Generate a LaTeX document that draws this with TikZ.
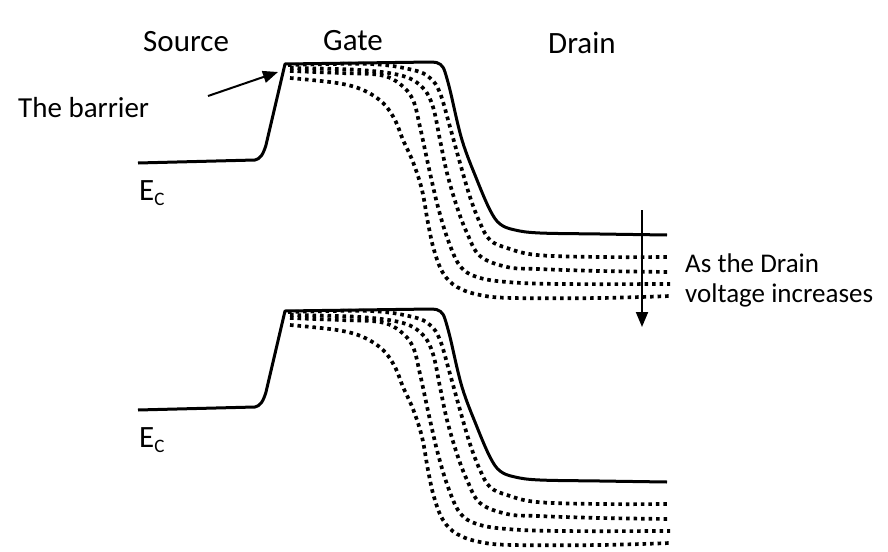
\documentclass[tikz,border=0pt]{standalone}
\usepackage{fontspec}
\setmainfont{Carlito}
\usetikzlibrary{arrows.meta}
\tikzset{
  band/.style={line width=3pt, line join=round},
  dotband/.style={line width=3.7pt, dash pattern=on 3.6pt off 3.9pt},
  pointer/.style={line width=2pt, -{Triangle[length=15pt,width=12pt]}},
  bigtxt/.style={anchor=base west, inner sep=0pt, font=\fontsize{31}{37}\selectfont},
  midtxt/.style={anchor=base west, inner sep=0pt, font=\fontsize{29}{35}\selectfont},
  smalltxt/.style={anchor=base west, inner sep=0pt, font=\fontsize{27}{30}\selectfont},
}
\newcommand{\bandpicture}{%
  \draw[band] (138,163) -- (255,160) .. controls (260,159) and (263,155) .. (266,145)
    -- (285,64) -- (432,62) .. controls (439,62) and (443,65) .. (445,72)
    -- plot[smooth, tension=0.6] coordinates {(445,72) (450,90) (462,140) (477,180) (490,210) (500,224) (515,230) (540,233) (600,234) (667,235)};
  \draw[dotband] plot[smooth, tension=0.6] coordinates {(288,65) (370,64) (413,70) (430,78) (440,93) (450,127) (460,163) (470,197) (480,223) (490,240) (507,248) (537,255) (600,257) (670,257)};
  \draw[dotband] plot[smooth, tension=0.6] coordinates {(290,68) (360,70) (403,76) (423,88) (433,107) (440,140) (447,173) (457,207) (467,233) (480,256) (507,267) (537,269) (600,271) (670,272)};
  \draw[dotband] plot[smooth, tension=0.6] coordinates {(290,71) (340,73) (380,75) (400,84) (413,100) (420,127) (425,150) (430,173) (438,207) (448,240) (460,266) (477,277) (507,282) (560,284) (670,284)};
  \draw[dotband] plot[smooth, tension=0.6] coordinates {(290,78) (337,83) (363,90) (383,103) (395,120) (403,140) (413,162) (422,190) (428,223) (434,250) (443,273) (457,287) (480,295) (513,298) (600,298) (670,296)};
}
\begin{document}
\begin{tikzpicture}[x=1pt, y=-1pt]
  \useasboundingbox (0,0) rectangle (888,551);
  % top band diagram
  \bandpicture
  % bottom band diagram
  \begin{scope}[shift={(0,247)}]
    \bandpicture
  \end{scope}
  % labels
  \node[bigtxt] (src) at (143,52) {Source};
  \node[bigtxt] (gate) at (323,51) {Gate};
  \node[bigtxt] (drain) at (548,53) {Drain};
  \node[midtxt] (barrier) at (18,117) {The barrier};
  \node[bigtxt] (ec1) at (139,200) {E\raisebox{-5pt}{\fontsize{19}{19}\selectfont C}};
  \node[bigtxt] (ec2) at (139,447) {E\raisebox{-5pt}{\fontsize{19}{19}\selectfont C}};
  \node[smalltxt] (as1) at (685,272) {As the Drain};
  \node[smalltxt] (as2) at (685,302) {voltage increases};
  % arrows
  \coordinate (barrtail) at (208,96);
  \coordinate (barrtip) at (278,72);
  \draw[pointer] (barrtail) -- (barrtip);
  \coordinate (vdtop) at (642,210);
  \coordinate (vdtip) at (642,327);
  \draw[pointer] (vdtop) -- (vdtip);
\end{tikzpicture}
\end{document}
